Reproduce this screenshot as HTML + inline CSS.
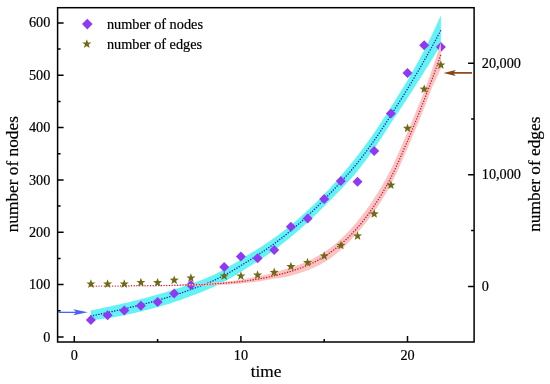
<!DOCTYPE html>
<html><head><meta charset="utf-8"><title>chart</title>
<style>html,body{margin:0;padding:0;background:#fff}svg{display:block}text{font-family:"Liberation Serif",serif;fill:#000;stroke:#000;stroke-width:0.2px}</style>
</head><body>
<svg width="550" height="384" viewBox="0 0 550 384">
<rect width="550" height="384" fill="#fff"/>
<polygon fill="#64f3f5" points="90.9,310.5 92.7,310.1 94.4,309.8 96.2,309.4 98.0,309.0 99.7,308.7 101.5,308.3 103.2,307.9 105.0,307.5 106.8,307.1 108.5,306.8 110.3,306.4 112.0,306.0 113.8,305.6 115.5,305.2 117.3,304.8 119.1,304.4 120.8,304.0 122.6,303.6 124.3,303.2 126.1,302.8 127.9,302.4 129.6,301.9 131.4,301.5 133.1,301.1 134.9,300.6 136.6,300.2 138.4,299.7 140.2,299.3 141.9,298.8 143.7,298.4 145.4,297.9 147.2,297.4 149.0,296.9 150.7,296.4 152.5,296.0 154.2,295.5 156.0,295.0 157.7,294.5 159.5,293.9 161.3,293.4 163.0,292.9 164.8,292.4 166.5,291.9 168.3,291.3 170.1,290.8 171.8,290.2 173.6,289.7 175.3,289.1 177.1,288.6 178.8,288.0 180.6,287.4 182.4,286.8 184.1,286.2 185.9,285.6 187.6,285.0 189.4,284.4 191.2,283.8 192.9,283.1 194.7,282.5 196.4,281.9 198.2,281.2 200.0,280.6 201.7,279.9 203.5,279.2 205.2,278.5 207.0,277.8 208.7,277.1 210.5,276.3 212.3,275.6 214.0,274.7 215.8,273.9 217.5,273.0 219.3,272.1 221.1,271.1 222.8,270.2 224.6,269.2 226.3,268.2 228.1,267.2 229.8,266.1 231.6,265.1 233.4,264.0 235.1,263.0 236.9,261.9 238.6,260.8 240.4,259.7 242.2,258.6 243.9,257.5 245.7,256.4 247.4,255.3 249.2,254.2 250.9,253.1 252.7,252.1 254.5,251.0 256.2,249.9 258.0,248.8 259.7,247.7 261.5,246.6 263.3,245.4 265.0,244.3 266.8,243.1 268.5,241.9 270.3,240.7 272.1,239.5 273.8,238.3 275.6,237.0 277.3,235.7 279.1,234.4 280.8,233.1 282.6,231.7 284.4,230.3 286.1,228.9 287.9,227.5 289.6,226.1 291.4,224.7 293.2,223.2 294.9,221.7 296.7,220.2 298.4,218.7 300.2,217.2 301.9,215.6 303.7,214.0 305.5,212.5 307.2,210.8 309.0,209.2 310.7,207.6 312.5,205.9 314.3,204.2 316.0,202.5 317.8,200.7 319.5,199.0 321.3,197.2 323.0,195.4 324.8,193.6 326.6,191.8 328.3,189.9 330.1,188.0 331.8,186.1 333.6,184.1 335.4,182.2 337.1,180.2 338.9,178.2 340.6,176.1 342.4,174.0 344.1,172.0 345.9,169.9 347.7,167.8 349.4,165.7 351.2,163.6 352.9,161.4 354.7,159.2 356.5,157.0 358.2,154.7 360.0,152.4 361.7,150.0 363.5,147.7 365.3,145.3 367.0,142.9 368.8,140.4 370.5,138.0 372.3,135.5 374.0,133.0 375.8,130.4 377.6,127.8 379.3,125.2 381.1,122.5 382.8,119.8 384.6,117.1 386.4,114.4 388.1,111.7 389.9,108.9 391.6,106.1 393.4,103.2 395.1,100.4 396.9,97.6 398.7,94.8 400.4,92.0 402.2,89.1 403.9,86.2 405.7,83.3 407.5,80.4 409.2,77.4 411.0,74.4 412.7,71.3 414.5,68.2 416.2,65.1 418.0,61.9 419.8,58.7 421.5,55.4 423.3,52.1 425.0,48.8 426.8,45.3 428.6,41.8 430.3,38.2 432.1,34.5 433.8,30.8 435.6,27.0 437.4,23.1 439.1,19.2 440.9,15.2 440.9,45.0 439.1,47.9 437.4,50.7 435.6,53.6 433.8,56.4 432.1,59.2 430.3,62.0 428.6,64.9 426.8,67.7 425.0,70.5 423.3,73.3 421.5,76.2 419.8,79.0 418.0,81.8 416.2,84.5 414.5,87.3 412.7,90.1 411.0,92.8 409.2,95.5 407.5,98.3 405.7,100.9 403.9,103.6 402.2,106.2 400.4,108.8 398.7,111.4 396.9,114.0 395.1,116.7 393.4,119.3 391.6,122.1 389.9,124.8 388.1,127.6 386.4,130.3 384.6,133.0 382.8,135.7 381.1,138.4 379.3,141.0 377.6,143.6 375.8,146.2 374.0,148.8 372.3,151.3 370.5,153.7 368.8,156.2 367.0,158.6 365.3,161.0 363.5,163.3 361.7,165.6 360.0,167.9 358.2,170.1 356.5,172.3 354.7,174.4 352.9,176.4 351.2,178.4 349.4,180.3 347.7,182.2 345.9,184.1 344.1,186.0 342.4,187.8 340.6,189.6 338.9,191.5 337.1,193.3 335.4,195.1 333.6,196.8 331.8,198.6 330.1,200.4 328.3,202.1 326.6,203.9 324.8,205.7 323.0,207.5 321.3,209.3 319.5,211.0 317.8,212.7 316.0,214.5 314.3,216.1 312.5,217.8 310.7,219.5 309.0,221.1 307.2,222.7 305.5,224.3 303.7,225.9 301.9,227.5 300.2,229.0 298.4,230.6 296.7,232.1 294.9,233.6 293.2,235.1 291.4,236.5 289.6,238.0 287.9,239.4 286.1,240.8 284.4,242.2 282.6,243.6 280.8,245.0 279.1,246.3 277.3,247.7 275.6,249.0 273.8,250.2 272.1,251.5 270.3,252.8 268.5,254.0 266.8,255.2 265.0,256.4 263.3,257.6 261.5,258.7 259.7,259.9 258.0,261.0 256.2,262.2 254.5,263.3 252.7,264.4 250.9,265.5 249.2,266.6 247.4,267.7 245.7,268.8 243.9,269.9 242.2,271.0 240.4,272.1 238.6,273.2 236.9,274.3 235.1,275.3 233.4,276.4 231.6,277.4 229.8,278.4 228.1,279.4 226.3,280.4 224.6,281.4 222.8,282.3 221.1,283.3 219.3,284.2 217.5,285.1 215.8,285.9 214.0,286.7 212.3,287.6 210.5,288.3 208.7,289.1 207.0,289.8 205.2,290.6 203.5,291.3 201.7,292.0 200.0,292.7 198.2,293.3 196.4,294.0 194.7,294.7 192.9,295.3 191.2,296.0 189.4,296.7 187.6,297.3 185.9,298.0 184.1,298.6 182.4,299.2 180.6,299.9 178.8,300.5 177.1,301.1 175.3,301.7 173.6,302.2 171.8,302.8 170.1,303.4 168.3,303.9 166.5,304.5 164.8,305.0 163.0,305.5 161.3,306.0 159.5,306.5 157.7,307.0 156.0,307.5 154.2,308.0 152.5,308.5 150.7,308.9 149.0,309.4 147.2,309.9 145.4,310.3 143.7,310.8 141.9,311.2 140.2,311.6 138.4,312.0 136.6,312.5 134.9,312.9 133.1,313.3 131.4,313.7 129.6,314.1 127.9,314.4 126.1,314.8 124.3,315.2 122.6,315.6 120.8,315.9 119.1,316.3 117.3,316.6 115.5,316.9 113.8,317.2 112.0,317.5 110.3,317.8 108.5,318.1 106.8,318.3 105.0,318.6 103.2,318.9 101.5,319.1 99.7,319.3 98.0,319.6 96.2,319.8 94.4,320.1 92.7,320.3 90.9,320.5"/>
<polyline fill="none" stroke="#1428b4" stroke-width="1.45" stroke-linecap="round" stroke-dasharray="0.01 2.7" points="90.9,316.0 92.7,315.6 94.4,315.3 96.2,314.9 98.0,314.5 99.7,314.2 101.5,313.8 103.2,313.4 105.0,313.1 106.8,312.7 108.5,312.3 110.3,311.9 112.0,311.6 113.8,311.2 115.5,310.8 117.3,310.4 119.1,310.0 120.8,309.6 122.6,309.2 124.3,308.8 126.1,308.4 127.9,308.0 129.6,307.6 131.4,307.1 133.1,306.7 134.9,306.3 136.6,305.9 138.4,305.4 140.2,305.0 141.9,304.5 143.7,304.1 145.4,303.6 147.2,303.2 149.0,302.7 150.7,302.2 152.5,301.7 154.2,301.2 156.0,300.7 157.7,300.2 159.5,299.7 161.3,299.2 163.0,298.7 164.8,298.2 166.5,297.7 168.3,297.1 170.1,296.6 171.8,296.0 173.6,295.5 175.3,294.9 177.1,294.3 178.8,293.7 180.6,293.2 182.4,292.6 184.1,291.9 185.9,291.3 187.6,290.7 189.4,290.1 191.2,289.4 192.9,288.8 194.7,288.1 196.4,287.5 198.2,286.8 200.0,286.2 201.7,285.5 203.5,284.8 205.2,284.1 207.0,283.4 208.7,282.7 210.5,282.0 212.3,281.2 214.0,280.4 215.8,279.6 217.5,278.7 219.3,277.9 221.1,277.0 222.8,276.0 224.6,275.1 226.3,274.1 228.1,273.2 229.8,272.2 231.6,271.2 233.4,270.2 235.1,269.1 236.9,268.1 238.6,267.0 240.4,265.9 242.2,264.8 243.9,263.7 245.7,262.6 247.4,261.5 249.2,260.4 250.9,259.3 252.7,258.2 254.5,257.1 256.2,255.9 258.0,254.8 259.7,253.7 261.5,252.5 263.3,251.3 265.0,250.2 266.8,249.0 268.5,247.7 270.3,246.5 272.1,245.2 273.8,244.0 275.6,242.7 277.3,241.4 279.1,240.0 280.8,238.7 282.6,237.3 284.4,235.9 286.1,234.5 287.9,233.1 289.6,231.6 291.4,230.2 293.2,228.7 294.9,227.2 296.7,225.7 298.4,224.2 300.2,222.6 301.9,221.0 303.7,219.4 305.5,217.8 307.2,216.2 309.0,214.6 310.7,212.9 312.5,211.2 314.3,209.5 316.0,207.8 317.8,206.1 319.5,204.3 321.3,202.5 323.0,200.7 324.8,198.9 326.6,197.1 328.3,195.2 330.1,193.4 331.8,191.6 333.6,189.7 335.4,187.9 337.1,186.0 338.9,184.1 340.6,182.2 342.4,180.2 344.1,178.3 345.9,176.4 347.7,174.4 349.4,172.4 351.2,170.4 352.9,168.4 354.7,166.3 356.5,164.1 358.2,161.9 360.0,159.7 361.7,157.4 363.5,155.1 365.3,152.8 367.0,150.4 368.8,148.0 370.5,145.6 372.3,143.1 374.0,140.6 375.8,138.1 377.6,135.5 379.3,132.9 381.1,130.3 382.8,127.7 384.6,125.0 386.4,122.3 388.1,119.6 389.9,116.8 391.6,114.1 393.4,111.3 395.1,108.5 396.9,105.8 398.7,103.0 400.4,100.2 402.2,97.5 403.9,94.7 405.7,91.8 407.5,89.0 409.2,86.1 411.0,83.2 412.7,80.2 414.5,77.3 416.2,74.3 418.0,71.3 419.8,68.3 421.5,65.2 423.3,62.2 425.0,59.1 426.8,56.0 428.6,52.8 430.3,49.7 432.1,46.5 433.8,43.3 435.6,40.0 437.4,36.8 439.1,33.5 440.9,30.2"/>
<g fill="#9039f5"><path d="M90.9 314.9L95.9 319.9L90.9 324.9L85.9 319.9Z"/><path d="M107.6 310.2L112.6 315.2L107.6 320.2L102.6 315.2Z"/><path d="M124.3 305.5L129.3 310.5L124.3 315.5L119.3 310.5Z"/><path d="M140.9 300.7L145.9 305.7L140.9 310.7L135.9 305.7Z"/><path d="M157.6 297.0L162.6 302.0L157.6 307.0L152.6 302.0Z"/><path d="M174.2 288.4L179.2 293.4L174.2 298.4L169.2 293.4Z"/><path d="M190.9 280.0L195.9 285.0L190.9 290.0L185.9 285.0Z"/><path d="M224.2 261.9L229.2 266.9L224.2 271.9L219.2 266.9Z"/><path d="M240.9 251.6L245.9 256.6L240.9 261.6L235.9 256.6Z"/><path d="M257.6 253.2L262.6 258.2L257.6 263.2L252.6 258.2Z"/><path d="M274.2 245.1L279.2 250.1L274.2 255.1L269.2 250.1Z"/><path d="M290.9 221.7L295.9 226.7L290.9 231.7L285.9 226.7Z"/><path d="M307.6 213.5L312.6 218.5L307.6 223.5L302.6 218.5Z"/><path d="M324.2 194.0L329.2 199.0L324.2 204.0L319.2 199.0Z"/><path d="M340.9 176.0L345.9 181.0L340.9 186.0L335.9 181.0Z"/><path d="M357.5 176.8L362.5 181.8L357.5 186.8L352.5 181.8Z"/><path d="M374.2 145.9L379.2 150.9L374.2 155.9L369.2 150.9Z"/><path d="M390.9 108.6L395.9 113.6L390.9 118.6L385.9 113.6Z"/><path d="M407.5 67.9L412.5 72.9L407.5 77.9L402.5 72.9Z"/><path d="M424.2 40.2L429.2 45.2L424.2 50.2L419.2 45.2Z"/><path d="M440.9 42.0L445.9 47.0L440.9 52.0L435.9 47.0Z"/></g>
<polygon fill="#fcc3c3" points="90.9,286.1 92.7,286.1 94.4,286.1 96.2,286.1 98.0,286.1 99.7,286.1 101.5,286.1 103.2,286.1 105.0,286.1 106.8,286.1 108.5,286.1 110.3,286.1 112.0,286.1 113.8,286.1 115.5,286.1 117.3,286.1 119.1,286.1 120.8,286.0 122.6,286.0 124.3,286.0 126.1,285.9 127.9,285.9 129.6,285.9 131.4,285.8 133.1,285.8 134.9,285.8 136.6,285.8 138.4,285.8 140.2,285.8 141.9,285.7 143.7,285.7 145.4,285.7 147.2,285.7 149.0,285.7 150.7,285.7 152.5,285.7 154.2,285.7 156.0,285.6 157.7,285.6 159.5,285.6 161.3,285.6 163.0,285.5 164.8,285.5 166.5,285.5 168.3,285.4 170.1,285.3 171.8,285.3 173.6,285.2 175.3,285.1 177.1,285.0 178.8,284.9 180.6,284.8 182.4,284.7 184.1,284.6 185.9,284.5 187.6,284.4 189.4,284.3 191.2,284.2 192.9,284.1 194.7,284.0 196.4,283.9 198.2,283.8 200.0,283.7 201.7,283.6 203.5,283.5 205.2,283.3 207.0,283.2 208.7,283.1 210.5,283.0 212.3,282.8 214.0,282.6 215.8,282.5 217.5,282.3 219.3,282.2 221.1,282.0 222.8,281.8 224.6,281.7 226.3,281.5 228.1,281.3 229.8,281.1 231.6,280.9 233.4,280.7 235.1,280.4 236.9,280.2 238.6,279.9 240.4,279.7 242.2,279.4 243.9,279.1 245.7,278.8 247.4,278.5 249.2,278.1 250.9,277.8 252.7,277.4 254.5,277.1 256.2,276.7 258.0,276.3 259.7,275.9 261.5,275.6 263.3,275.2 265.0,274.8 266.8,274.4 268.5,274.0 270.3,273.5 272.1,273.1 273.8,272.6 275.6,272.2 277.3,271.7 279.1,271.2 280.8,270.6 282.6,270.1 284.4,269.6 286.1,269.1 287.9,268.5 289.6,268.0 291.4,267.4 293.2,266.8 294.9,266.2 296.7,265.6 298.4,265.0 300.2,264.3 301.9,263.7 303.7,262.9 305.5,262.2 307.2,261.4 309.0,260.6 310.7,259.8 312.5,258.9 314.3,258.0 316.0,257.1 317.8,256.1 319.5,255.0 321.3,254.0 323.0,252.9 324.8,251.7 326.6,250.5 328.3,249.3 330.1,248.0 331.8,246.7 333.6,245.3 335.4,243.9 337.1,242.4 338.9,240.8 340.6,239.2 342.4,237.6 344.1,235.8 345.9,234.1 347.7,232.3 349.4,230.4 351.2,228.5 352.9,226.5 354.7,224.5 356.5,222.4 358.2,220.3 360.0,218.1 361.7,215.9 363.5,213.6 365.3,211.2 367.0,208.8 368.8,206.4 370.5,203.8 372.3,201.2 374.0,198.6 375.8,195.8 377.6,193.0 379.3,190.1 381.1,187.2 382.8,184.2 384.6,181.1 386.4,177.9 388.1,174.6 389.9,171.3 391.6,167.8 393.4,164.2 395.1,160.4 396.9,156.6 398.7,152.6 400.4,148.6 402.2,144.4 403.9,140.3 405.7,136.2 407.5,132.0 409.2,127.8 411.0,123.7 412.7,119.5 414.5,115.3 416.2,111.1 418.0,106.8 419.8,102.4 421.5,98.0 423.3,93.5 425.0,88.9 426.8,84.3 428.6,79.4 430.3,74.4 432.1,69.3 433.8,64.2 435.6,59.0 437.4,53.6 439.1,48.0 440.9,42.3 440.9,68.3 439.1,72.3 437.4,76.2 435.6,80.0 433.8,83.4 432.1,87.5 430.3,92.1 428.6,96.7 426.8,101.2 425.0,105.7 423.3,110.2 421.5,114.6 419.8,119.0 418.0,123.4 416.2,127.6 414.5,131.9 412.7,136.0 411.0,140.2 409.2,144.3 407.5,148.4 405.7,152.5 403.9,156.5 402.2,160.5 400.4,164.5 398.7,168.5 396.9,172.3 395.1,176.0 393.4,179.6 391.6,183.1 389.9,186.4 388.1,189.6 386.4,192.7 384.6,195.6 382.8,198.5 381.1,201.3 379.3,204.0 377.6,206.7 375.8,209.3 374.0,211.8 372.3,214.2 370.5,216.6 368.8,218.9 367.0,221.2 365.3,223.4 363.5,225.6 361.7,227.7 360.0,229.8 358.2,231.8 356.5,233.8 354.7,235.8 352.9,237.7 351.2,239.6 349.4,241.5 347.7,243.3 345.9,245.1 344.1,246.8 342.4,248.5 340.6,250.1 338.9,251.6 337.1,253.1 335.4,254.6 333.6,255.9 331.8,257.2 330.1,258.5 328.3,259.7 326.6,260.8 324.8,261.9 323.0,262.9 321.3,263.9 319.5,264.9 317.8,265.8 316.0,266.6 314.3,267.4 312.5,268.2 310.7,269.0 309.0,269.7 307.2,270.4 305.5,271.1 303.7,271.7 301.9,272.3 300.2,272.9 298.4,273.5 296.7,274.1 294.9,274.6 293.2,275.1 291.4,275.6 289.6,276.0 287.9,276.5 286.1,276.9 284.4,277.3 282.6,277.6 280.8,277.9 279.1,278.2 277.3,278.3 275.6,278.5 273.8,278.8 272.1,279.1 270.3,279.4 268.5,279.7 266.8,280.0 265.0,280.3 263.3,280.6 261.5,280.9 259.7,281.2 258.0,281.4 256.2,281.7 254.5,281.9 252.7,282.2 250.9,282.4 249.2,282.6 247.4,282.8 245.7,283.0 243.9,283.2 242.2,283.4 240.4,283.6 238.6,283.7 236.9,283.9 235.1,284.0 233.4,284.1 231.6,284.3 229.8,284.4 228.1,284.5 226.3,284.6 224.6,284.7 222.8,284.8 221.1,284.8 219.3,284.9 217.5,285.0 215.8,285.1 214.0,285.1 212.3,285.2 210.5,285.3 208.7,285.3 207.0,285.4 205.2,285.4 203.5,285.4 201.7,285.5 200.0,285.5 198.2,285.5 196.4,285.5 194.7,285.5 192.9,285.5 191.2,285.5 189.4,285.5 187.6,285.4 185.9,285.4 184.1,285.4 182.4,285.4 180.6,285.4 178.8,285.4 177.1,285.4 175.3,285.4 173.6,285.4 171.8,285.4 170.1,285.4 168.3,285.4 166.5,285.5 164.8,285.5 163.0,285.5 161.3,285.6 159.5,285.6 157.7,285.6 156.0,285.6 154.2,285.7 152.5,285.7 150.7,285.7 149.0,285.7 147.2,285.7 145.4,285.7 143.7,285.7 141.9,285.7 140.2,285.8 138.4,285.8 136.6,285.8 134.9,285.8 133.1,285.8 131.4,285.8 129.6,285.9 127.9,285.9 126.1,285.9 124.3,286.0 122.6,286.0 120.8,286.0 119.1,286.1 117.3,286.1 115.5,286.1 113.8,286.1 112.0,286.1 110.3,286.1 108.5,286.1 106.8,286.1 105.0,286.1 103.2,286.1 101.5,286.1 99.7,286.1 98.0,286.1 96.2,286.1 94.4,286.1 92.7,286.1 90.9,286.1"/>
<polyline fill="none" stroke="#d0182c" stroke-width="1.45" stroke-linecap="round" stroke-dasharray="0.01 2.7" points="90.9,286.1 92.7,286.1 94.4,286.1 96.2,286.1 98.0,286.1 99.7,286.1 101.5,286.1 103.2,286.1 105.0,286.1 106.8,286.1 108.5,286.1 110.3,286.1 112.0,286.1 113.8,286.1 115.5,286.1 117.3,286.1 119.1,286.1 120.8,286.0 122.6,286.0 124.3,286.0 126.1,285.9 127.9,285.9 129.6,285.9 131.4,285.8 133.1,285.8 134.9,285.8 136.6,285.8 138.4,285.8 140.2,285.8 141.9,285.7 143.7,285.7 145.4,285.7 147.2,285.7 149.0,285.7 150.7,285.7 152.5,285.7 154.2,285.7 156.0,285.6 157.7,285.6 159.5,285.6 161.3,285.6 163.0,285.5 164.8,285.5 166.5,285.5 168.3,285.4 170.1,285.4 171.8,285.3 173.6,285.3 175.3,285.2 177.1,285.2 178.8,285.2 180.6,285.1 182.4,285.1 184.1,285.0 185.9,285.0 187.6,284.9 189.4,284.9 191.2,284.9 192.9,284.8 194.7,284.8 196.4,284.7 198.2,284.6 200.0,284.6 201.7,284.5 203.5,284.4 205.2,284.4 207.0,284.3 208.7,284.2 210.5,284.1 212.3,284.0 214.0,283.9 215.8,283.7 217.5,283.6 219.3,283.5 221.1,283.4 222.8,283.2 224.6,283.1 226.3,283.0 228.1,282.8 229.8,282.7 231.6,282.5 233.4,282.3 235.1,282.2 236.9,282.0 238.6,281.8 240.4,281.6 242.2,281.4 243.9,281.1 245.7,280.9 247.4,280.7 249.2,280.4 250.9,280.2 252.7,279.9 254.5,279.6 256.2,279.3 258.0,279.0 259.7,278.7 261.5,278.4 263.3,278.1 265.0,277.7 266.8,277.4 268.5,277.0 270.3,276.6 272.1,276.2 273.8,275.8 275.6,275.4 277.3,275.0 279.1,274.5 280.8,274.1 282.6,273.6 284.4,273.1 286.1,272.7 287.9,272.2 289.6,271.6 291.4,271.1 293.2,270.6 294.9,270.0 296.7,269.4 298.4,268.8 300.2,268.2 301.9,267.5 303.7,266.9 305.5,266.1 307.2,265.4 309.0,264.6 310.7,263.8 312.5,263.0 314.3,262.2 316.0,261.2 317.8,260.3 319.5,259.3 321.3,258.3 323.0,257.2 324.8,256.1 326.6,255.0 328.3,253.8 330.1,252.6 331.8,251.4 333.6,250.1 335.4,248.7 337.1,247.3 338.9,245.9 340.6,244.4 342.4,242.9 344.1,241.3 345.9,239.7 347.7,238.0 349.4,236.3 351.2,234.5 352.9,232.6 354.7,230.8 356.5,228.8 358.2,226.8 360.0,224.8 361.7,222.6 363.5,220.5 365.3,218.2 367.0,215.9 368.8,213.6 370.5,211.1 372.3,208.6 374.0,206.1 375.8,203.4 377.6,200.7 379.3,198.0 381.1,195.1 382.8,192.2 384.6,189.2 386.4,186.1 388.1,182.9 389.9,179.6 391.6,176.2 393.4,172.6 395.1,169.0 396.9,165.2 398.7,161.3 400.4,157.3 402.2,153.3 403.9,149.2 405.7,145.1 407.5,141.0 409.2,136.8 411.0,132.7 412.7,128.5 414.5,124.2 416.2,120.0 418.0,115.6 419.8,111.2 421.5,106.8 423.3,102.3 425.0,97.7 426.8,93.2 428.6,88.6 430.3,83.9 432.1,79.2 433.8,74.5 435.6,69.6 437.4,64.6 439.1,59.5 440.9,54.4"/>
<g fill="#6f6a16"><path d="M90.9 279.2L92.1 282.4L95.5 282.5L92.8 284.6L93.7 287.9L90.9 286.0L88.1 287.9L89.0 284.6L86.4 282.5L89.7 282.4Z"/><path d="M107.6 279.2L108.8 282.4L112.2 282.5L109.5 284.6L110.4 287.9L107.6 286.0L104.8 287.9L105.7 284.6L103.0 282.5L106.4 282.4Z"/><path d="M124.3 279.2L125.4 282.4L128.8 282.5L126.2 284.6L127.1 287.9L124.3 286.0L121.4 287.9L122.3 284.6L119.7 282.5L123.1 282.4Z"/><path d="M140.9 277.7L142.1 280.9L145.5 281.0L142.8 283.1L143.7 286.4L140.9 284.5L138.1 286.4L139.0 283.1L136.4 281.0L139.7 280.9Z"/><path d="M157.6 277.9L158.8 281.1L162.1 281.2L159.5 283.3L160.4 286.6L157.6 284.7L154.8 286.6L155.7 283.3L153.0 281.2L156.4 281.1Z"/><path d="M174.2 275.4L175.4 278.6L178.8 278.7L176.1 280.8L177.1 284.1L174.2 282.2L171.4 284.1L172.3 280.8L169.7 278.7L173.1 278.6Z"/><path d="M190.9 273.2L192.1 276.4L195.5 276.5L192.8 278.6L193.7 281.9L190.9 280.0L188.1 281.9L189.0 278.6L186.3 276.5L189.7 276.4Z"/><path d="M224.2 271.2L225.4 274.4L228.8 274.5L226.1 276.6L227.1 279.9L224.2 278.0L221.4 279.9L222.3 276.6L219.7 274.5L223.1 274.4Z"/><path d="M240.9 271.2L242.1 274.4L245.5 274.5L242.8 276.6L243.7 279.9L240.9 278.0L238.1 279.9L239.0 276.6L236.3 274.5L239.7 274.4Z"/><path d="M257.6 270.3L258.7 273.5L262.1 273.6L259.5 275.7L260.4 279.0L257.6 277.1L254.7 279.0L255.7 275.7L253.0 273.6L256.4 273.5Z"/><path d="M274.2 267.6L275.4 270.8L278.8 270.9L276.1 273.0L277.0 276.3L274.2 274.4L271.4 276.3L272.3 273.0L269.7 270.9L273.1 270.8Z"/><path d="M290.9 261.8L292.1 265.0L295.5 265.1L292.8 267.2L293.7 270.5L290.9 268.6L288.1 270.5L289.0 267.2L286.3 265.1L289.7 265.0Z"/><path d="M307.6 257.8L308.7 261.0L312.1 261.1L309.5 263.2L310.4 266.5L307.6 264.6L304.7 266.5L305.7 263.2L303.0 261.1L306.4 261.0Z"/><path d="M324.2 251.2L325.4 254.4L328.8 254.5L326.1 256.6L327.0 259.9L324.2 258.0L321.4 259.9L322.3 256.6L319.7 254.5L323.0 254.4Z"/><path d="M340.9 240.6L342.1 243.8L345.4 243.9L342.8 246.0L343.7 249.3L340.9 247.4L338.1 249.3L339.0 246.0L336.3 243.9L339.7 243.8Z"/><path d="M357.5 231.2L358.7 234.4L362.1 234.5L359.5 236.6L360.4 239.9L357.5 238.0L354.7 239.9L355.6 236.6L353.0 234.5L356.4 234.4Z"/><path d="M374.2 209.1L375.4 212.3L378.8 212.4L376.1 214.5L377.0 217.8L374.2 215.9L371.4 217.8L372.3 214.5L369.6 212.4L373.0 212.3Z"/><path d="M390.9 180.4L392.1 183.6L395.4 183.7L392.8 185.8L393.7 189.1L390.9 187.2L388.1 189.1L389.0 185.8L386.3 183.7L389.7 183.6Z"/><path d="M407.5 123.5L408.7 126.7L412.1 126.8L409.4 128.9L410.4 132.2L407.5 130.3L404.7 132.2L405.6 128.9L403.0 126.8L406.4 126.7Z"/><path d="M424.2 84.4L425.4 87.6L428.8 87.7L426.1 89.8L427.0 93.1L424.2 91.2L421.4 93.1L422.3 89.8L419.6 87.7L423.0 87.6Z"/><path d="M440.9 60.2L442.0 63.4L445.4 63.5L442.8 65.6L443.7 68.9L440.9 67.0L438.0 68.9L439.0 65.6L436.3 63.5L439.7 63.4Z"/></g>
<rect x="57.6" y="7.7" width="416.5" height="334.3" fill="none" stroke="#000" stroke-width="1.5"/>
<path d="M57.6 337.0h6M57.6 310.8h3M57.6 284.6h6M57.6 258.5h3M57.6 232.3h6M57.6 206.1h3M57.6 180.0h6M57.6 153.8h3M57.6 127.6h6M57.6 101.4h3M57.6 75.2h6M57.6 49.1h3M57.6 22.9h6M74.3 342.0v-6M157.6 342.0v-3M240.9 342.0v-6M324.2 342.0v-3M407.5 342.0v-6M474.1 286.4h-6M474.1 230.6h-3M474.1 174.8h-6M474.1 119.0h-3M474.1 63.2h-6" stroke="#000" stroke-width="1.5" fill="none"/>
<g font-size="14.25px">
<text x="50.3" y="341.5" text-anchor="end">0</text>
<text x="50.3" y="289.1" text-anchor="end">100</text>
<text x="50.3" y="236.8" text-anchor="end">200</text>
<text x="50.3" y="184.5" text-anchor="end">300</text>
<text x="50.3" y="132.1" text-anchor="end">400</text>
<text x="50.3" y="79.8" text-anchor="end">500</text>
<text x="50.3" y="27.4" text-anchor="end">600</text>
<text x="74.3" y="360.1" text-anchor="middle">0</text>
<text x="240.9" y="360.1" text-anchor="middle">10</text>
<text x="407.5" y="360.1" text-anchor="middle">20</text>
<text x="481.8" y="290.9">0</text>
<text x="481.8" y="179.3">10,000</text>
<text x="481.8" y="67.7">20,000</text>
</g>
<g font-size="17.3px" text-anchor="middle">
<text transform="translate(17.6 174.2) rotate(-90)">number of nodes</text>
<text transform="translate(539.7 174.2) rotate(-90)">number of edges</text>
<text x="266" y="377.3">time</text>
</g>
<g fill="#9039f5"><path d="M87.3 18.8L92.6 24.1L87.3 29.4L82.0 24.1Z"/></g>
<g fill="#6f6a16"><path d="M86.8 39.2L88.0 42.4L91.4 42.5L88.7 44.6L89.6 47.9L86.8 46.0L84.0 47.9L84.9 44.6L82.2 42.5L85.6 42.4Z"/></g>
<g font-size="14.3px"><text x="106.9" y="29.2">number of nodes</text><text x="106.9" y="49.1">number of edges</text></g>
<g fill="#4f60f2" stroke="none"><path d="M58.5 311.7H77v1.3H58.5Z"/><path d="M87.9 312.3L73.3 309.3L76.2 312.3L73.3 315.3Z"/></g>
<g fill="#8b4513" stroke="none"><path d="M453 72.05H472v1.7H453Z"/><path d="M443.5 72.9L455.7 69.9L453.4 72.9L455.7 75.9Z"/></g>
</svg>
</body></html>
